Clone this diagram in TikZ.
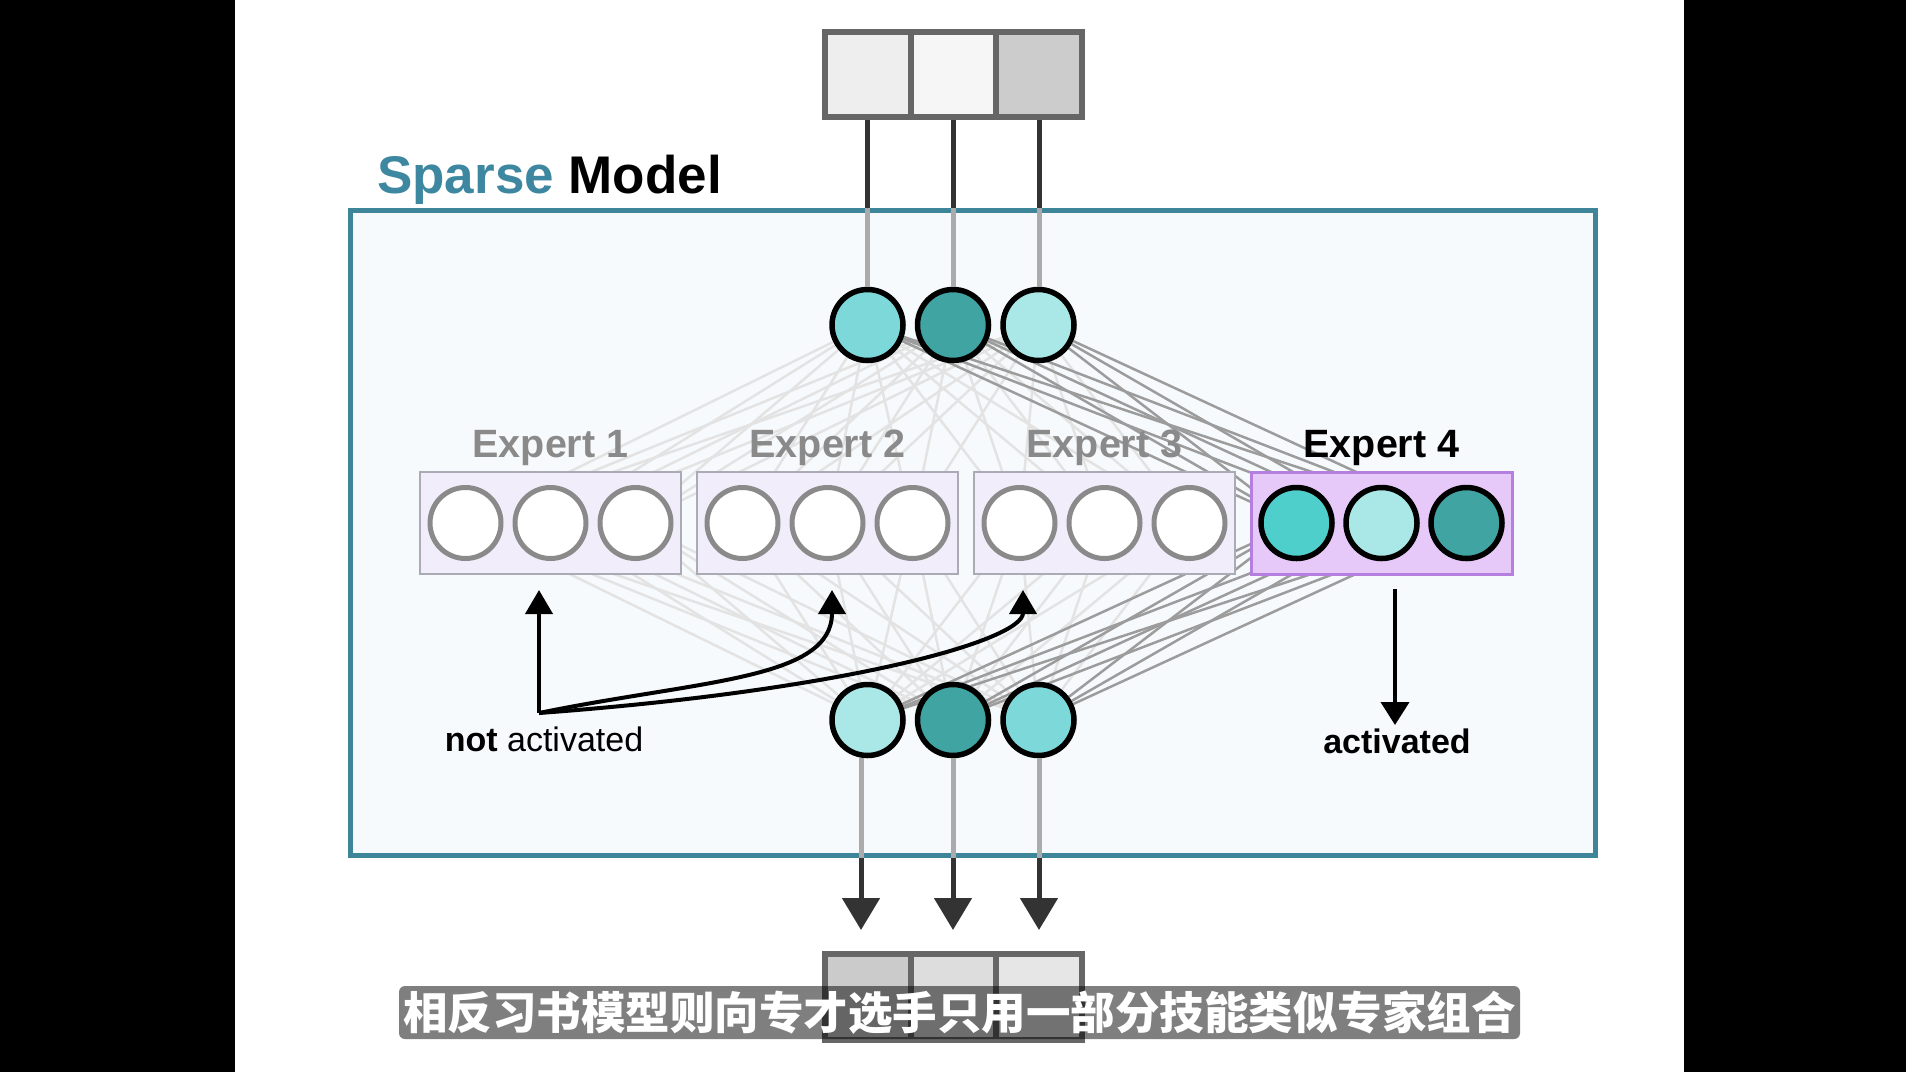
\documentclass[tikz,border=0pt]{standalone}
\usepackage{fontspec}
\setmainfont{Liberation Sans}
\newfontfamily\cjk{Noto Sans CJK SC}
\usetikzlibrary{arrows.meta}
\definecolor{frameblue}{HTML}{3F8599}
\definecolor{framefill}{HTML}{F7FAFC}
\definecolor{sparseblue}{HTML}{3E87A0}
\definecolor{boxgray}{HTML}{666666}
\definecolor{cellA}{HTML}{EEEEEE}
\definecolor{cellB}{HTML}{F6F6F6}
\definecolor{cellC}{HTML}{CCCCCC}
\definecolor{cellD}{HTML}{CBCBCB}
\definecolor{cellE}{HTML}{DDDDDD}
\definecolor{cellF}{HTML}{E6E6E6}
\definecolor{tealA}{HTML}{7DD9D9}
\definecolor{tealD}{HTML}{40A4A2}
\definecolor{tealP}{HTML}{A9E8E6}
\definecolor{tealT}{HTML}{4ECFCC}
\definecolor{ringgray}{HTML}{8A8A8A}
\definecolor{labgray}{HTML}{8A8A8A}
\definecolor{expfill}{HTML}{F1EDFA}
\definecolor{expborder}{HTML}{ABABB5}
\definecolor{actfill}{HTML}{E7C9F9}
\definecolor{actborder}{HTML}{B57FE0}
\definecolor{meshL}{HTML}{E3E3E3}
\definecolor{meshD}{HTML}{9C9C9C}
\definecolor{feedD}{HTML}{333333}
\definecolor{feedG}{HTML}{ABABAB}
\pgfdeclarelayer{back}
\pgfdeclarelayer{lines}
\pgfdeclarelayer{boxes}
\pgfsetlayers{back,lines,boxes,main}
\begin{document}
\begin{tikzpicture}[x=1pt,y=-1pt,
  cellbox/.style={draw=boxgray, line width=6pt, minimum width=85.67pt, minimum height=85pt, inner sep=0pt},
  topc/.style={circle, draw=black, line width=5.5pt, minimum size=71pt, inner sep=0pt},
  emptyc/.style={circle, draw=ringgray, line width=5pt, fill=white, minimum size=71pt, inner sep=0pt},
  expbox/.style={draw=expborder, line width=2.5pt, fill=expfill, minimum width=261pt, minimum height=102pt, inner sep=0pt},
  actbox/.style={draw=actborder, line width=3pt, fill=actfill, minimum width=261pt, minimum height=102pt, inner sep=0pt},
  meshlight/.style={draw=meshL, line width=2.5pt},
  meshdark/.style={draw=meshD, line width=2.5pt},
  feedline/.style={line width=5pt, draw=feedD},
  feedgray/.style={line width=5pt, draw=feedG},
  outarrow/.style={line width=5pt, draw=feedD, -{Triangle[width=37pt,length=32pt]}},
  callarrow/.style={line width=4pt, draw=black, -{Triangle[width=27pt,length=24pt]}},
  explabel/.style={anchor=base, inner sep=0pt, font=\fontsize{39.5}{44}\selectfont\bfseries},
  txtlabel/.style={anchor=base, inner sep=0pt, font=\fontsize{34}{40}\selectfont},
]
\useasboundingbox (0,0) rectangle (1906,1072);
\begin{pgfonlayer}{back}
  \fill[black] (0,0) rectangle (1906,1072);
  \fill[white] (235,0) rectangle (1684,1072);
  \node[draw=frameblue, line width=5pt, fill=framefill, minimum width=1245pt, minimum height=645pt, inner sep=0pt] (frame) at (973,532.5) {};
\end{pgfonlayer}

% input and output vectors
\node[cellbox, fill=cellA] (in1) at (867.8,74.5) {};
\node[cellbox, fill=cellB] (in2) at (953.5,74.5) {};
\node[cellbox, fill=cellC] (in3) at (1039.2,74.5) {};

% top and bottom neurons
\node[topc, fill=tealA] (t1) at (867.5,325) {};
\node[topc, fill=tealD] (t2) at (953,325) {};
\node[topc, fill=tealP] (t3) at (1038.5,325) {};
\node[topc, fill=tealP] (b1) at (867.5,720) {};
\node[topc, fill=tealD] (b2) at (953,720) {};
\node[topc, fill=tealA] (b3) at (1038.5,720) {};

% expert boxes
\begin{pgfonlayer}{boxes}
  \node[expbox] (x1) at (550.5,523) {};
  \node[expbox] (x2) at (827.5,523) {};
  \node[expbox] (x3) at (1104.5,523) {};
  \node[actbox] (x4) at (1381.5,523) {};
\end{pgfonlayer}

\foreach \i/\cx in {1/550.5,2/827.5,3/1104.5}{
  \foreach \j/\dx in {1/-85,2/0,3/85}{
    \node[emptyc] (e\i\j) at (\cx+\dx,523) {};
  }
}
\node[topc, fill=tealT] (e41) at (1296.5,523) {};
\node[topc, fill=tealP] (e42) at (1381.5,523) {};
\node[topc, fill=tealD] (e43) at (1466.5,523) {};

% mesh
\begin{pgfonlayer}{lines}
  \foreach \t in {1,2,3}{
    \foreach \i in {1,2,3}{
      \foreach \j in {1,2,3}{
        \draw[meshlight] (t\t) -- (e\i\j);
        \draw[meshlight] (e\i\j) -- (b\t);
      }
    }
  }
  \foreach \t in {1,2,3}{
    \foreach \j in {1,2,3}{
      \draw[meshdark] (t\t) -- (e4\j);
      \draw[meshdark] (e4\j) -- (b\t);
    }
  }
\end{pgfonlayer}

% feed lines in
\foreach \k in {1,2,3}{
  \draw[feedline] (in\k.south) -- (in\k.south |- frame.north);
  \draw[feedgray] (in\k.south |- frame.north) -- (in\k.south |- t\k.north);
}

% output
\node[cellbox, fill=cellD, minimum height=86pt] (out1) at (867.8,997) {};
\node[cellbox, fill=cellE, minimum height=86pt] (out2) at (953.5,997) {};
\node[cellbox, fill=cellF, minimum height=86pt] (out3) at (1039.2,997) {};
\coordinate (o1) at (861,930);
\coordinate (o2) at (953,930);
\coordinate (o3) at (1039,930);
\foreach \k in {1,2,3}{
  \draw[feedgray] (o\k |- b\k.south) -- (o\k |- frame.south);
  \draw[outarrow] (o\k |- frame.south) -- (o\k);
}

% labels
\node[explabel, text=labgray] (l1) at (550.5,457) {Expert 1};
\node[explabel, text=labgray] (l2) at (827.5,457) {Expert 2};
\node[explabel, text=labgray] (l3) at (1104.5,457) {Expert 3};
\node[explabel, text=black] (l4) at (1381.5,457) {Expert 4};

\node[anchor=base west, inner sep=0pt, font=\fontsize{53}{60}\selectfont\bfseries] (title) at (377,193) {\textcolor{sparseblue}{Sparse} Model};

% callouts
\coordinate (J) at (539,713);
\coordinate (n1) at (539,590);
\coordinate (n2) at (832,590);
\coordinate (n3) at (1023,590);
\draw[callarrow] (J) -- (n1);
\draw[callarrow] (J) .. controls (700,680) and (832,680) .. (n2);
\draw[callarrow] (J) .. controls (850,690) and (1023,640) .. (n3);
\node[txtlabel] (na) at (544,751) {\textbf{not} activated};

\coordinate (a0) at (1395,589);
\coordinate (a1) at (1395,725);
\draw[callarrow, -{Triangle[width=28pt,length=23pt]}] (a0) -- (a1);
\node[txtlabel, font=\fontsize{34}{40}\selectfont\bfseries] (ac) at (1397,753) {activated};

% subtitle
\node[fill=black, fill opacity=0.5, text opacity=1, text=white, rounded corners=6pt, minimum width=1121pt, minimum height=53pt, inner sep=0pt, font=\cjk\fontsize{44.5}{50}\selectfont\bfseries] (sub) at (959.5,1012.5) {相反习书模型则向专才选手只用一部分技能类似专家组合};
\end{tikzpicture}
\end{document}
